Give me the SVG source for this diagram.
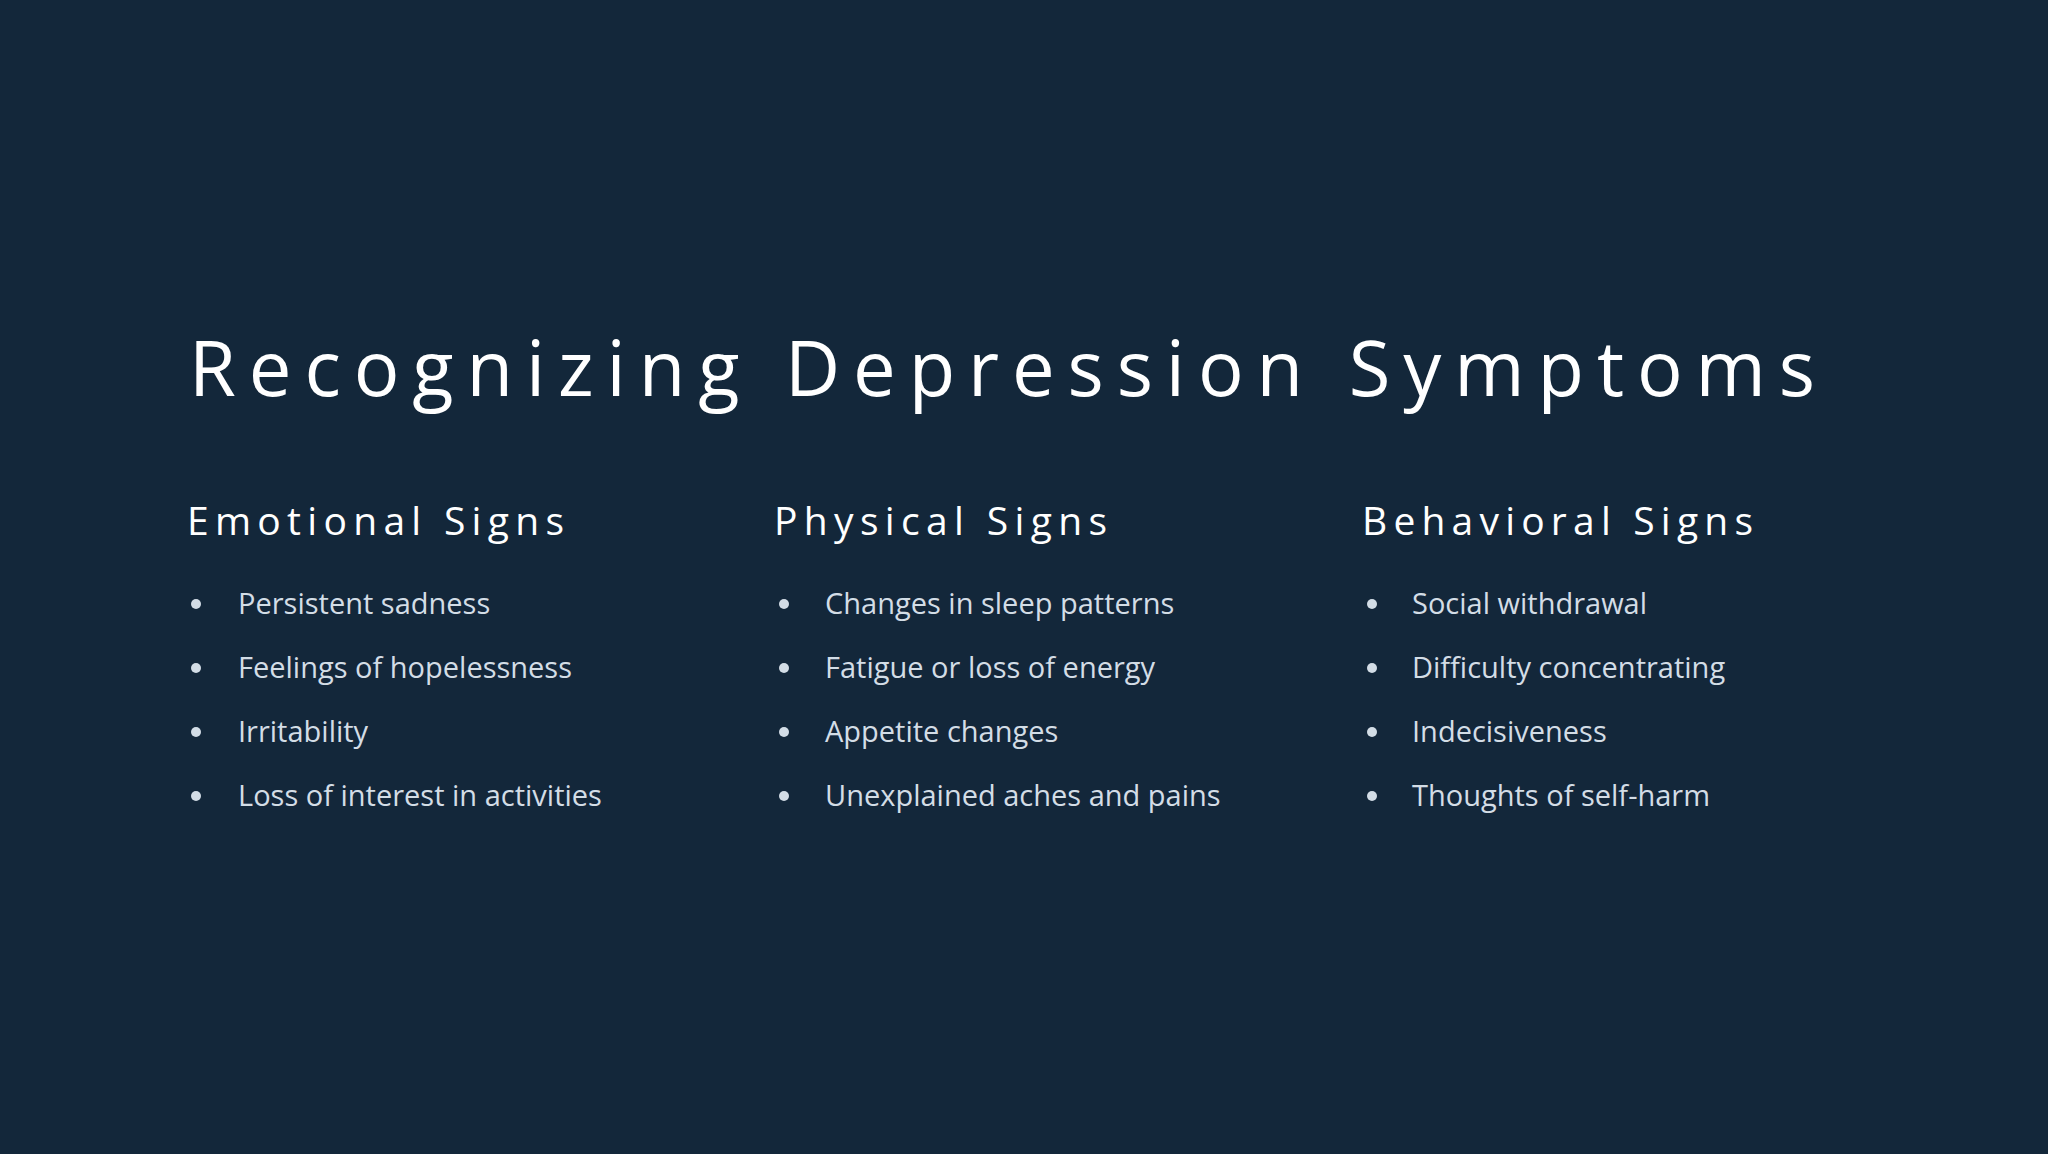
<svg xmlns="http://www.w3.org/2000/svg" width="2048" height="1154" viewBox="0 0 2048 1154">
<style>
.t{font-family:"Open Sans","Noto Sans",sans-serif;fill:#ffffff}
.h{font-family:"Open Sans","Noto Sans",sans-serif;fill:#ffffff;font-size:39px}
.b{font-family:"Open Sans","Noto Sans",sans-serif;fill:#d3dde6;font-size:29px}
.d{fill:#d3dde6}
</style>
<rect width="2048" height="1154" fill="#13273a"/>
<text class="t" x="189" y="396" font-size="76" textLength="1626" lengthAdjust="spacing">Recognizing Depression Symptoms</text>
<g id="emotional">
<text class="h" x="187" y="535" textLength="377" lengthAdjust="spacing">Emotional Signs</text>
<circle class="d" cx="196" cy="604" r="5"/><text class="b" x="238" y="614">Persistent sadness</text>
<circle class="d" cx="196" cy="668" r="5"/><text class="b" x="238" y="678">Feelings of hopelessness</text>
<circle class="d" cx="196" cy="732" r="5"/><text class="b" x="238" y="742">Irritability</text>
<circle class="d" cx="196" cy="796" r="5"/><text class="b" x="238" y="806">Loss of interest in activities</text>
</g>
<g id="physical">
<text class="h" x="774" y="535" textLength="333" lengthAdjust="spacing">Physical Signs</text>
<circle class="d" cx="784" cy="604" r="5"/><text class="b" x="825" y="614">Changes in sleep patterns</text>
<circle class="d" cx="784" cy="668" r="5"/><text class="b" x="825" y="678">Fatigue or loss of energy</text>
<circle class="d" cx="784" cy="732" r="5"/><text class="b" x="825" y="742">Appetite changes</text>
<circle class="d" cx="784" cy="796" r="5"/><text class="b" x="825" y="806">Unexplained aches and pains</text>
</g>
<g id="behavioral">
<text class="h" x="1362" y="535" textLength="391" lengthAdjust="spacing">Behavioral Signs</text>
<circle class="d" cx="1372" cy="604" r="5"/><text class="b" x="1412" y="614">Social withdrawal</text>
<circle class="d" cx="1372" cy="668" r="5"/><text class="b" x="1412" y="678">Difficulty concentrating</text>
<circle class="d" cx="1372" cy="732" r="5"/><text class="b" x="1412" y="742">Indecisiveness</text>
<circle class="d" cx="1372" cy="796" r="5"/><text class="b" x="1412" y="806">Thoughts of self-harm</text>
</g>
<g id="connectors"/>
</svg>
